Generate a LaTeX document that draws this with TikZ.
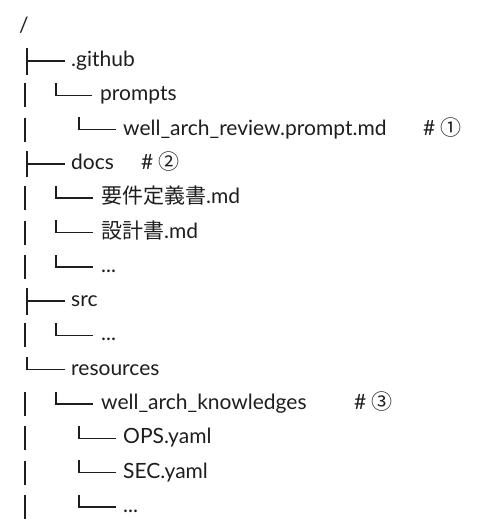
\documentclass[tikz,border=0pt]{standalone}
\usepackage{fontspec}
\setmainfont{Lato}
\newfontfamily\cjk{Noto Sans CJK JP}
\definecolor{ink}{HTML}{1E1E1E}
\begin{document}
\begin{tikzpicture}[x=1pt,y=-1pt,
  tl/.style={line width=1.5pt, draw=ink},
  lbl/.style={inner sep=0pt, anchor=base west, text=ink, font=\fontsize{21}{25}\selectfont}]
\useasboundingbox[fill=white] (0,0) rectangle (495,531);
% text nodes (baseline = row centre + 5.5)
\node[lbl] (root) at (19,32.5) {/};
\node[lbl] (github) at (71,66.5) {.github};
\node[lbl] (prompts) at (100,100.8) {prompts};
\node[lbl] (review) at (123,135.1) {well\_arch\_review.prompt.md};
\node[lbl] (c1) at (423,135.1) {\# {\cjk ①}};
\node[lbl] (docs) at (71,169.4) {docs};
\node[lbl] (c2) at (141,169.4) {\# {\cjk ②}};
\node[lbl] (req) at (101,203.7) {{\cjk 要件定義書}.md};
\node[lbl] (design) at (101,238) {{\cjk 設計書}.md};
\node[lbl] (docsmore) at (101,272.3) {...};
\node[lbl] (src) at (71,306.6) {src};
\node[lbl] (srcmore) at (101,340.9) {...};
\node[lbl] (res) at (71,375.2) {resources};
\node[lbl] (know) at (101,409.5) {well\_arch\_knowledges};
\node[lbl] (c3) at (354,409.5) {\# {\cjk ③}};
\node[lbl] (ops) at (123,443.8) {OPS.yaml};
\node[lbl] (sec) at (123,478.1) {SEC.yaml};
\node[lbl] (knowmore) at (123,512.4) {...};
% first level branches
\draw[tl] (27,48) -- (27,75) (27,61) -- ([xshift=-6pt,yshift=5.5pt]github.base west);
\draw[tl] (27,151) -- (27,177) (27,163.9) -- ([xshift=-6pt,yshift=5.5pt]docs.base west);
\draw[tl] (27,288) -- (27,315) (27,301.1) -- ([xshift=-6pt,yshift=5.5pt]src.base west);
\draw[tl] (27,357) -- (27,369.7) -- ([xshift=-6pt,yshift=5.5pt]res.base west);
% second level
\draw[tl] (56,83) |- ([xshift=-8pt,yshift=5.5pt]prompts.base west);
\draw[tl] (56,186) |- ([xshift=-8pt,yshift=5.5pt]req.base west);
\draw[tl] (56,220) |- ([xshift=-8pt,yshift=5.5pt]design.base west);
\draw[tl] (56,255) |- ([xshift=-8pt,yshift=5.5pt]docsmore.base west);
\draw[tl] (56,323) |- ([xshift=-8pt,yshift=5.5pt]srcmore.base west);
\draw[tl] (56,392) |- ([xshift=-8pt,yshift=5.5pt]know.base west);
% third level
\draw[tl] (79,117) |- ([xshift=-7pt,yshift=5.5pt]review.base west);
\draw[tl] (79,426) |- ([xshift=-7pt,yshift=5.5pt]ops.base west);
\draw[tl] (79,460) |- ([xshift=-7pt,yshift=5.5pt]sec.base west);
\draw[tl] (79,495) |- ([xshift=-7pt,yshift=5.5pt]knowmore.base west);
% pipes
\foreach \r in {95.3,129.6,198.2,232.5,266.8,335.4,404,438.3,472.6,506.9}
  \draw[tl] (25,\r-12) -- (25,\r+12);
\end{tikzpicture}
\end{document}
